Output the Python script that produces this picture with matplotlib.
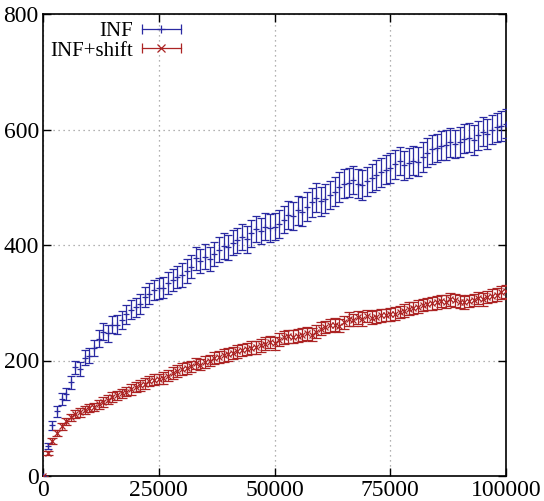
import matplotlib
matplotlib.use("Agg")
import matplotlib.pyplot as plt
from matplotlib.lines import Line2D
from matplotlib.legend_handler import HandlerLine2D, HandlerTuple

x_k = list(range(0, 101))  # thousands

inf_y = [0, 52, 88, 112, 133, 142, 162, 188, 186, 205,
         208, 222, 238, 250, 247, 262, 262, 270, 280, 288,
         292, 298, 310, 316, 322, 325, 326, 334, 340, 345,
         348, 355, 362, 377, 372, 380, 376, 384, 392, 398,
         396, 404, 408, 414, 410, 420, 428, 424, 432, 430,
         432, 436, 444, 452, 450, 460, 458, 466, 474, 482,
         476, 480, 486, 492, 500, 506, 508, 512, 506, 504,
         510, 516, 522, 526, 530, 534, 540, 546, 538, 542,
         546, 544, 552, 560, 566, 568, 572, 574, 578, 575,
         578, 584, 586, 582, 590, 596, 592, 600, 604, 606,
         610]
inf_err = [0, 6, 8, 10, 10, 10, 12, 12, 12, 13,
           13, 14, 14, 15, 15, 15, 16, 16, 16, 17,
           17, 17, 17, 18, 18, 18, 18, 19, 19, 19,
           20, 20, 20, 20, 21, 21, 21, 21, 22, 22,
           22, 22, 22, 22, 23, 23, 23, 23, 23, 24,
           24, 24, 24, 24, 24, 25, 25, 25, 25, 25,
           25, 25, 24, 25, 26, 25, 25, 24, 25, 26,
           25, 25, 26, 25, 25, 26, 25, 24, 25, 26,
           25, 25, 26, 25, 25, 24, 25, 26, 25, 25,
           26, 25, 25, 26, 25, 25, 26, 25, 25, 26,
           25]

shift_y = [0, 40, 60, 75, 86, 95, 102, 108, 110, 114,
           117, 120, 124, 128, 132, 137, 140, 143, 146, 150,
           154, 157, 160, 164, 167, 168, 170, 174, 178, 182,
           185, 187, 190, 195, 193, 197, 200, 204, 206, 209,
           211, 213, 216, 218, 220, 222, 223, 226, 229, 232,
           230, 236, 240, 242, 241, 243, 245, 247, 245, 250,
           255, 258, 261, 262, 260, 266, 272, 270, 275, 272,
           277, 274, 276, 278, 279, 280, 281, 284, 286, 290,
           291, 293, 296, 298, 299, 301, 303, 302, 306, 304,
           302, 301, 303, 305, 308, 306, 310, 312, 314, 318,
           320]
shift_err = [0, 4, 5, 5, 6, 6, 6, 7, 7, 7,
             7, 7, 8, 8, 8, 8, 8, 8, 8, 9,
             9, 9, 9, 9, 9, 9, 10, 10, 10, 10,
             10, 10, 10, 10, 10, 10, 10, 10, 10, 11,
             11, 11, 11, 11, 11, 11, 11, 11, 11, 11,
             11, 11, 11, 11, 11, 11, 11, 11, 11, 11,
             11, 11, 11, 11, 11, 11, 12, 11, 11, 12,
             11, 11, 11, 11, 11, 11, 11, 11, 11, 11,
             11, 11, 11, 11, 11, 11, 11, 11, 11, 11,
             11, 11, 11, 11, 11, 11, 11, 11, 11, 11,
             11]

x_vals = [k * 1000 for k in x_k]

xticks = [0, 25000, 50000, 75000, 100000]
yticks = [0, 200, 400, 600, 800]

blue = "#2a2aa2"
red = "#ac2424"

plt.rcParams['font.family'] = ['Liberation Serif', 'DejaVu Serif']

fig = plt.figure(figsize=(5.44, 5.01), dpi=100)
ax = fig.add_axes([43/544, 25/501, 463/544, 462/501])

ax.errorbar(x_vals, inf_y, yerr=inf_err, fmt='+', color=blue, ms=5, mew=0.9,
            elinewidth=0.9, capsize=3, capthick=0.9, zorder=3)
ax.errorbar(x_vals, shift_y, yerr=shift_err, fmt='x', color=red, ms=5, mew=0.9,
            elinewidth=0.9, capsize=3.5, capthick=0.9, zorder=3)

ax.set_xlim(0, 100000)
ax.set_ylim(0, 800)
ax.set_xticks(xticks)
ax.set_yticks(yticks)
ax.set_xticklabels([str(v) for v in xticks])
ax.set_yticklabels([str(v) for v in yticks])
ax.tick_params(direction='in', top=True, right=True, length=6, width=1,
               labelsize=17, pad=3)
ax.grid(True, linestyle=(0, (1, 3)), color='#999999', linewidth=0.9)
for s in ax.spines.values():
    s.set_linewidth(1.2)

# legend handles: horizontal error bar sample with center marker
cap_b = Line2D([0, 1], [0, 0], color=blue, lw=0.9, marker='|', ms=7, mew=0.9)
mid_b = Line2D([0], [0], color=blue, lw=0, marker='+', ms=6, mew=0.9)
cap_r = Line2D([0, 1], [0, 0], color=red, lw=0.9, marker='|', ms=7, mew=0.9)
mid_r = Line2D([0], [0], color=red, lw=0, marker='x', ms=6, mew=0.9)

leg = ax.legend([(cap_b, mid_b), (cap_r, mid_r)], ["INF", "INF+shift"],
                handler_map={cap_b: HandlerLine2D(numpoints=2, marker_pad=0),
                             cap_r: HandlerLine2D(numpoints=2, marker_pad=0),
                             mid_b: HandlerLine2D(numpoints=1),
                             mid_r: HandlerLine2D(numpoints=1),
                             tuple: HandlerTuple(ndivide=1, pad=0)},
                loc='upper left', bbox_to_anchor=(0.015, 0.984), frameon=False,
                markerfirst=False, fontsize=15, handlelength=1.9,
                handletextpad=0.43, borderpad=0, borderaxespad=0,
                labelspacing=0.0)

fig.savefig("out.png", dpi=100)
